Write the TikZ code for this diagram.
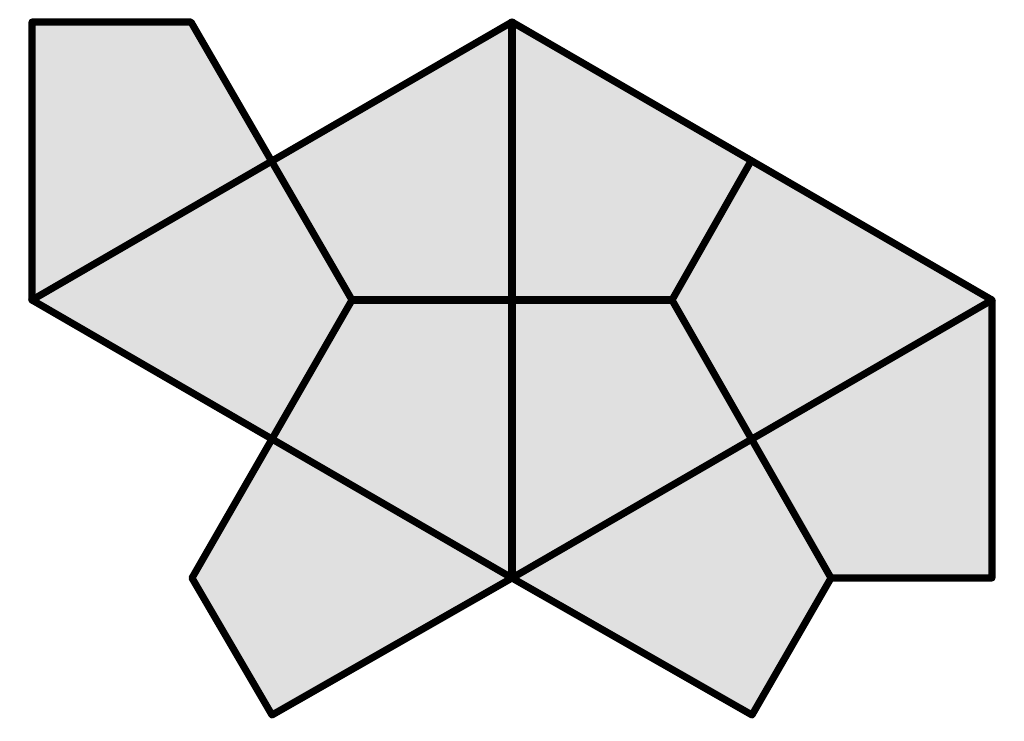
\documentclass[tikz,border=0pt]{standalone}
\usetikzlibrary{calc}

\definecolor{tilegray}{RGB}{224,224,224}

\begin{document}
\begin{tikzpicture}[x=0.2mm, y=-0.2mm, line join=round, line cap=round]
    \useasboundingbox (0,0) rectangle (1024,741);
    \tikzset{edge/.style={black, line width=4pt}}

    \coordinate (A) at (32,22);
    \coordinate (B) at (191,22);
    \coordinate (C) at (270,162);
    \coordinate (D) at (512,22);
    \coordinate (E) at (751,161);
    \coordinate (F) at (992,300);
    \coordinate (G) at (992,578);
    \coordinate (H) at (831,578);
    \coordinate (I) at (752,715);
    \coordinate (J) at (512,578);
    \coordinate (K) at (272,715);
    \coordinate (L) at (192,578);
    \coordinate (M) at (271,439);
    \coordinate (N) at (32,300);
    \coordinate (P) at (352,300);
    \coordinate (Q) at (512,300);
    \coordinate (R) at (672,300);
    \coordinate (S) at (752,439);

    % fill of the whole tiling
    \fill[tilegray] (A) -- (B) -- (C) -- (D) -- (F) -- (G) -- (H) -- (I) -- (J)
        -- (K) -- (L) -- (M) -- (N) -- cycle;

    % outline
    \draw[edge] (N) -- (A) -- (B) -- (P);
    \draw[edge] (N) -- (D) -- (F) -- (G) -- (H) -- (I) -- (J) -- (K) -- (L) -- (P);
    \draw[edge] (N) -- (J) -- (F);

    % inner edges
    \draw[edge] (D) -- (J);
    \draw[edge] (P) -- (R);
    \draw[edge] (E) -- (R) -- (H);
\end{tikzpicture}
\end{document}
